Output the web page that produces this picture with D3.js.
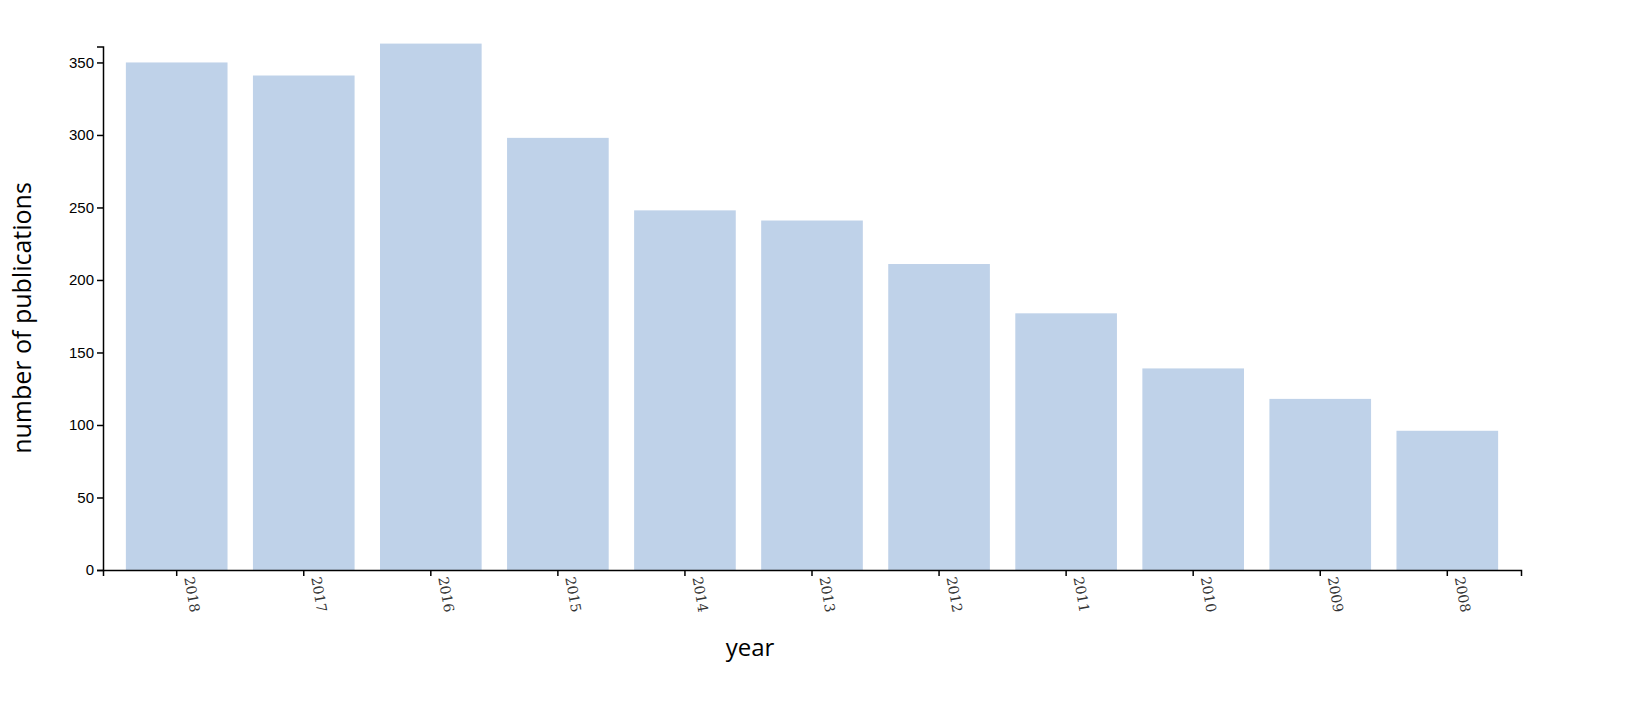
<!DOCTYPE html>
<html>
<head>
<meta charset="utf-8">
<script src="https://cdn.jsdelivr.net/npm/d3@7"></script>
<style>
  body { margin: 0; background: #fff; }
</style>
</head>
<body>
<svg id="chart" width="1628" height="722"></svg>
<script>
var years = ['2018', '2017', '2016', '2015', '2014', '2013', '2012', '2011', '2010', '2009', '2008']
var counts = [350, 341, 363, 298, 248, 241, 211, 177, 139, 118, 96]
var yTicks = [0, 50, 100, 150, 200, 250, 300, 350]

var svg = d3.select('#chart')
var left = 103, right = 1521, bottom = 570

var x = d3.scaleBand().domain(years).range([left, right]).paddingInner(0.2).paddingOuter(0.18)
var y = d3.scaleLinear().domain([0, 361]).range([bottom, 46.5])

svg.selectAll('rect.bar')
  .data(years)
  .enter().append('rect')
  .attr('class', 'bar')
  .attr('x', d => x(d))
  .attr('width', x.bandwidth())
  .attr('y', (d, i) => y(counts[i]))
  .attr('height', (d, i) => bottom - y(counts[i]))
  .style('fill', '#bfd2e9')

var xAxis = svg.append('g')
  .attr('transform', 'translate(0,' + bottom + ')')
  .call(d3.axisBottom(x).tickSizeOuter(6))
xAxis.selectAll('text')
  .style('font-family', 'DejaVu Serif')
  .style('font-size', '14px')
  .style('fill', '#333')
  .attr('text-anchor', 'start')
  .attr('transform', 'rotate(80)')
  .attr('x', 9)
  .attr('y', -6)
  .attr('dy', 0)

var yAxis = svg.append('g')
  .attr('transform', 'translate(' + left + ',0)')
  .call(d3.axisLeft(y).tickValues(yTicks).tickSizeOuter(6))
yAxis.selectAll('text')
  .style('font-family', 'Liberation Sans, Arial')
  .style('font-size', '15px')

svg.selectAll('.domain, .tick line').style('stroke', '#000').style('stroke-width', 1.5)

svg.append('text')
  .attr('x', 750).attr('y', 656)
  .attr('text-anchor', 'middle')
  .style('font-family', 'Open Sans')
  .style('font-size', '24px')
  .text('year')

svg.append('text')
  .attr('transform', 'translate(31,' + 318 + ') rotate(-90)')
  .attr('text-anchor', 'middle')
  .style('font-family', 'Open Sans')
  .style('font-size', '25px')
  .text('number of publications')
</script>
</body>
</html>
